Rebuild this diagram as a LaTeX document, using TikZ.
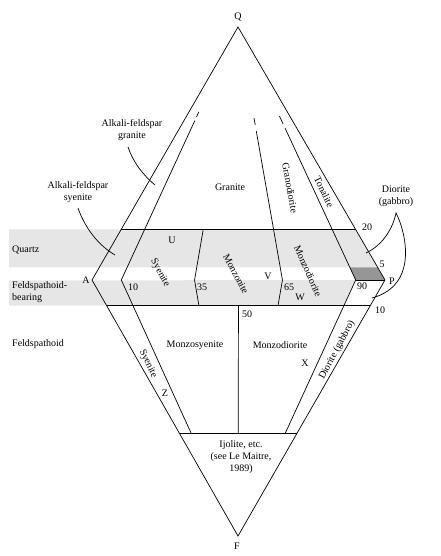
\documentclass[tikz,border=0pt]{standalone}
\usepackage{fontspec}
\setmainfont{Liberation Serif}
\usetikzlibrary{calc}
\definecolor{lightband}{RGB}{230,230,230}
\definecolor{darkband}{RGB}{150,150,150}
\begin{document}
\begin{tikzpicture}[x=1pt,y=-1pt,
  line/.style={line width=0.7pt},
  lbl/.style={font=\fontsize{10}{12}\selectfont, inner sep=0pt},
  mlbl/.style={lbl, align=center}]
\path[use as bounding box] (0,0) rectangle (441,556);
% corners
\coordinate (Q) at (238,27);
\coordinate (A) at (92,280);
\coordinate (P) at (385,280);
\coordinate (F) at (238,536);
\coordinate (p10) at ($(A)!0.10!(P)$);
\coordinate (p35) at ($(A)!0.35!(P)$);
\coordinate (p50) at ($(A)!0.50!(P)$);
\coordinate (p65) at ($(A)!0.65!(P)$);
\coordinate (p90) at ($(A)!0.90!(P)$);
% bands
\fill[lightband] (9,229.4) -- ($(Q)!0.8!(P)$) -- ($(Q)!0.95!(P)$) -- (9,267.35) -- cycle;
\fill[lightband] (9,280.5) -- (p90) -- ($(F)!0.9!(p90)$) -- (9,305.6) -- cycle;
\fill[darkband] ($(Q)!0.95!(p90)$) -- ($(Q)!0.95!(P)$) -- (P) -- (p90) -- cycle;
% outline
\draw[line] (Q) -- (A) -- (F) -- (P) -- cycle;
\draw[line] ($(Q)!0.8!(A)$) -- ($(Q)!0.8!(P)$);
\draw[line] ($(F)!0.9!(A)$) -- ($(F)!0.9!(P)$);
\draw[line] ($(F)!0.4!(A)$) -- ($(F)!0.4!(P)$);
\draw[line] (p90) -- (P);
% 10 line
\draw[line] ($(Q)!0.336!(p10)$) -- ($(Q)!0.356!(p10)$);
\draw[line] ($(Q)!0.37!(p10)$) -- (p10) -- ($(F)!0.4!(p10)$);
% 35 line
\draw[line] ($(Q)!0.8!(p35)$) -- (p35) -- ($(F)!0.9!(p35)$);
% 50 line
\draw[line] ($(F)!0.9!(p50)$) -- ($(F)!0.4!(p50)$);
% 65 line
\draw[line] ($(Q)!0.36!(p65)$) -- ($(Q)!0.387!(p65)$);
\draw[line] ($(Q)!0.411!(p65)$) -- (p65) -- ($(F)!0.9!(p65)$);
% 90 line
\draw[line] ($(Q)!0.352!(p90)$) -- ($(Q)!0.383!(p90)$);
\draw[line] ($(Q)!0.40!(p90)$) -- (p90) -- ($(F)!0.4!(p90)$);
% leaders
\coordinate (afgA) at (128,147);
\coordinate (afgB) at (155,185);
\draw[line] (afgA) .. controls (133,162) and (143,175) .. (afgB);
\coordinate (afsA) at (78,208);
\coordinate (afsB) at (115,255);
\draw[line] (afsA) .. controls (85,228) and (98,245) .. (afsB);
\coordinate (dgA) at (366,253);
\coordinate (dgT) at (396,213);
\coordinate (dgB) at (372,298);
\draw[line] (dgA) .. controls (383,245) and (393,228) .. (dgT)
  .. controls (405,230) and (420,285) .. (dgB);
% vertex labels
\node[lbl] (lQ) at (238,17) {Q};
\node[lbl] (lA) at (86,280) {A};
\node[lbl] (lP) at (392,281) {P};
\node[lbl] (lF) at (237,546) {F};
% field labels
\node[lbl] (granite) at (230,187) {Granite};
\node[mlbl] (afg) at (132,130) {Alkali-feldspar\\granite};
\node[mlbl] (afs) at (78,192) {Alkali-feldspar\\syenite};
\node[mlbl] (dg) at (396,196) {Diorite\\(gabbro)};
\node[lbl, rotate=-80] (grd) at (290,188) {Granodiorite};
\node[lbl, rotate=-64] (ton) at (324,192) {Tonalite};
\node[lbl, rotate=-61] (sye1) at (160,273) {Syenite};
\node[lbl, rotate=-62] (mzn) at (236,274) {Monzonite};
\node[lbl, rotate=-66] (mzd1) at (308,271) {Monzodiorite};
\node[lbl, rotate=-65] (sye2) at (148,364) {Syenite};
\node[lbl, rotate=62] (dg2) at (337,350) {Diorite (gabbro)};
\node[lbl] (mzs) at (195,345) {Monzosyenite};
\node[lbl] (mzd2) at (280,345) {Monzodiorite};
\node[mlbl] (ijo) at (241,457) {Ijolite, etc.\\(see Le Maitre,\\1989)};
% band labels
\node[lbl, anchor=west] (quartz) at (12,250) {Quartz};
\node[lbl, anchor=west, align=left] (fb) at (12,292) {Feldspathoid-\\bearing};
\node[lbl, anchor=west] (fd) at (12,344) {Feldspathoid};
% numbers
\node[lbl] (n20) at (367,227) {20};
\node[lbl] (n5) at (382,264) {5};
\node[lbl] (n90) at (362,286) {90};
\node[lbl] (n10r) at (380,310) {10};
\node[lbl] (n10l) at (133,287) {10};
\node[lbl] (n35) at (202,287) {35};
\node[lbl] (n65) at (289,287) {65};
\node[lbl] (n50) at (247,314) {50};
% letters
\node[lbl] (U) at (172,240) {U};
\node[lbl] (V) at (268,276) {V};
\node[lbl] (W) at (300,297) {W};
\node[lbl] (X) at (305,363) {X};
\node[lbl] (Z) at (165,393) {Z};
\end{tikzpicture}
\end{document}
